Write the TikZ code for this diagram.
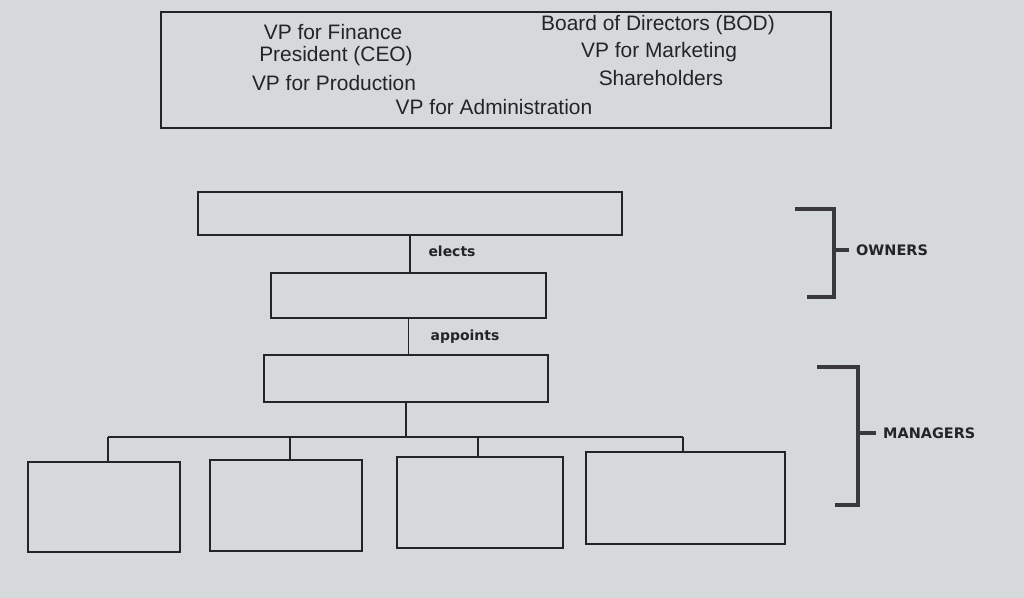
\documentclass[tikz,border=0pt]{standalone}
\usepackage{fontspec}
\setmainfont{Liberation Sans}
\newfontfamily\labfont{DejaVu Sans}
\definecolor{paper}{RGB}{214,217,219}
\definecolor{ink}{RGB}{35,35,40}
\begin{document}
\begin{tikzpicture}[x=1bp,y=-1bp,
  box/.style={draw=ink, line width=1.3bp, inner sep=0pt},
  conn/.style={draw=ink, line width=1.3bp},
  brk/.style={draw=ink!90, line width=3.5bp},
  listtext/.style={text=ink, font=\fontsize{21}{24}\selectfont, inner sep=0pt},
  edgelab/.style={text=ink, font=\labfont\bfseries\fontsize{14}{16}\selectfont, inner sep=0pt},
  grouplab/.style={text=ink, font=\labfont\bfseries\fontsize{14.5}{16}\selectfont, inner sep=0pt, anchor=west}]
\fill[paper] (0,0) rectangle (1024,598);
\useasboundingbox (0,0) rectangle (1024,598);
% word list
\node[box, minimum width=670bp, minimum height=116bp] (list) at (496,70) {};
\node[listtext] (t1) at (333,32) {VP for Finance};
\node[listtext] (t2) at (336,56) {President (CEO)};
\node[listtext] (t3) at (334,83) {VP for Production};
\node[listtext] (t4) at (658,25) {Board of Directors (BOD)};
\node[listtext] (t5) at (659,52) {VP for Marketing};
\node[listtext] (t6) at (661,78) {Shareholders};
\node[listtext] (t7) at (494,107) {VP for Administration};
% chart boxes
\node[box, minimum width=424bp, minimum height=43bp] (b1) at (410,213.5) {};
\node[box, minimum width=275bp, minimum height=45bp] (b2) at (408.5,295.5) {};
\node[box, minimum width=284bp, minimum height=47bp] (b3) at (406,378.5) {};
\node[box, minimum width=152bp, minimum height=90bp] (ba) at (104,507) {};
\node[box, minimum width=152bp, minimum height=91bp] (bb) at (286,505.5) {};
\node[box, minimum width=166bp, minimum height=91bp] (bc) at (480,502.5) {};
\node[box, minimum width=199bp, minimum height=92bp] (bd) at (685.5,498) {};
% connectors
\draw[conn] (b1.south) -- (b1.south |- b2.north);
\node[edgelab] (el) at (452,251) {elects};
\draw[conn] (b2.south) -- (b2.south |- b3.north);
\node[edgelab] (ap) at (465,337) {appoints};
\coordinate (ha) at (108,437);
\coordinate (hb) at (290,437);
\coordinate (hc) at (478,437);
\coordinate (hd) at (683,437);
\draw[conn] (b3.south) -- (b3.south |- ha);
\draw[conn] (ha) -- (hd);
\draw[conn] (ha) -- (ha |- ba.north);
\draw[conn] (hb) -- (hb |- bb.north);
\draw[conn] (hc) -- (hc |- bc.north);
\draw[conn] (hd) -- (hd |- bd.north);
% brackets
\coordinate (o1) at (795,209);
\coordinate (o2) at (834,209);
\coordinate (o3) at (834,297);
\coordinate (o4) at (807,297);
\coordinate (ot) at (834,250);
\coordinate (otip) at (849,250);
\draw[brk] (o1) -- (o2) -- (o3) -- (o4);
\draw[brk] (ot) -- (otip);
\node[grouplab] (own) at (856,250) {OWNERS};
\coordinate (m1) at (817,367);
\coordinate (m2) at (858,367);
\coordinate (m3) at (858,505);
\coordinate (m4) at (835,505);
\coordinate (mt) at (858,433);
\coordinate (mtip) at (876,433);
\draw[brk] (m1) -- (m2) -- (m3) -- (m4);
\draw[brk] (mt) -- (mtip);
\node[grouplab] (man) at (883,433) {MANAGERS};
\end{tikzpicture}
\end{document}
